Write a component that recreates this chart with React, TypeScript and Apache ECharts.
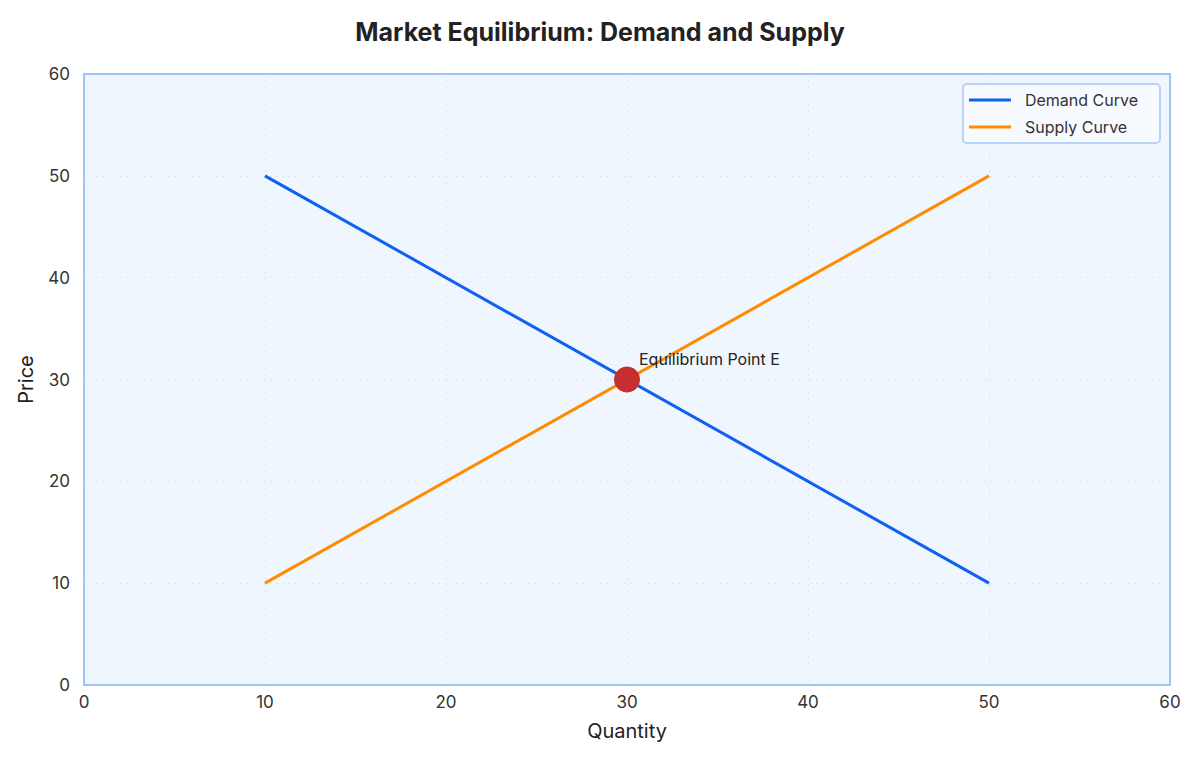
import { useEffect, useRef } from 'react';
import * as echarts from 'echarts';

const quantityTicks = [0, 10, 20, 30, 40, 50, 60];
const demandCurve: [number, number][] = [
  [10, 50],
  [50, 10],
];
const supplyCurve: [number, number][] = [
  [10, 10],
  [50, 50],
];
const equilibrium: [number, number][] = [[30, 30]];

const FONT = 'Inter, "Noto Sans", sans-serif';

export default function App() {
  const chartRef = useRef<HTMLDivElement>(null);

  useEffect(() => {
    document.body.style.margin = '0';
    if (!chartRef.current) {
      return;
    }
    const chart = echarts.init(chartRef.current, undefined, { renderer: 'svg' });

    const axisCommon = {
      type: 'value' as const,
      min: quantityTicks[0],
      max: quantityTicks[quantityTicks.length - 1],
      interval: 10,
      axisLine: { show: false },
      axisTick: { show: false },
      axisLabel: { color: '#333', fontSize: 17, fontFamily: FONT },
      splitLine: {
        show: true,
        showMinLine: false,
        showMaxLine: false,
        lineStyle: { color: '#dfe6ef', type: [2, 4] as number[], width: 1 },
      },
      nameTextStyle: { color: '#222', fontSize: 20, fontFamily: FONT },
    };

    chart.setOption({
      animation: false,
      backgroundColor: '#ffffff',
      title: {
        text: 'Market Equilibrium: Demand and Supply',
        left: 'center',
        top: 14,
        textStyle: { color: '#222', fontSize: 25, fontWeight: 'bold', fontFamily: FONT },
      },
      grid: {
        left: 84,
        right: 30,
        top: 74,
        bottom: 76,
        show: true,
        backgroundColor: '#f0f6fe',
        borderColor: '#a0c4f8',
        borderWidth: 2,
      },
      legend: {
        right: 40,
        top: 84,
        orient: 'vertical',
        icon: 'rect',
        itemWidth: 42,
        itemHeight: 3,
        itemGap: 11,
        padding: [8, 22, 8, 6],
        backgroundColor: '#f7faff',
        borderColor: '#b8d2f8',
        borderWidth: 2,
        borderRadius: 4,
        textStyle: { color: '#333', fontSize: 16, fontFamily: FONT, padding: [0, 0, 0, 9] },
        data: ['Demand Curve', 'Supply Curve'],
      },
      xAxis: {
        ...axisCommon,
        name: 'Quantity',
        nameLocation: 'middle',
        nameGap: 36,
        axisLabel: { ...axisCommon.axisLabel, margin: 8 },
      },
      yAxis: {
        ...axisCommon,
        name: 'Price',
        nameLocation: 'middle',
        nameGap: 48,
        axisLabel: { ...axisCommon.axisLabel, margin: 14 },
      },
      series: [
        {
          name: 'Demand Curve',
          type: 'line',
          data: demandCurve,
          symbol: 'none',
          lineStyle: { color: '#0f62f0', width: 3 },
          itemStyle: { color: '#0f62f0' },
        },
        {
          name: 'Supply Curve',
          type: 'line',
          data: supplyCurve,
          symbol: 'none',
          lineStyle: { color: '#ff8c00', width: 3 },
          itemStyle: { color: '#ff8c00' },
        },
        {
          name: 'Equilibrium',
          type: 'scatter',
          data: equilibrium,
          symbolSize: 26,
          itemStyle: { color: '#c62f2f', opacity: 1 },
          z: 5,
          label: {
            show: true,
            formatter: 'Equilibrium Point E',
            position: 'right',
            offset: [-6, -21],
            color: '#222',
            fontSize: 16,
            fontFamily: FONT,
          },
        },
      ],
    });

    return () => {
      chart.dispose();
    };
  }, []);

  return <div ref={chartRef} style={{ width: 1200, height: 761 }} />;
}
